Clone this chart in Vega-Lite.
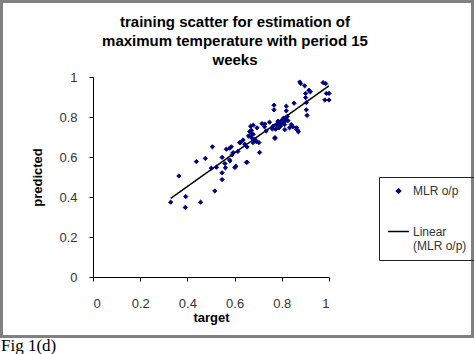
{
  "$schema": "https://vega.github.io/schema/vega-lite/v6.json",
  "autosize": {"type": "none"},
  "width": 236,
  "height": 200,
  "padding": {"left": 93, "top": 77, "right": 145, "bottom": 77},
  "background": "white",
  "config": {
    "view": {"stroke": null},
    "font": "Liberation Sans",
    "axis": {"grid": false, "domainColor": "black", "tickColor": "black", "tickSize": 4, "labelOverlap": false, "labelFont": "Liberation Sans", "labelFontSize": 13, "labelColor": "#333", "titleFont": "Liberation Sans", "titleFontSize": 13, "titleFontWeight": "bold", "titleColor": "black"},
    "axisX": {"labelPadding": 16, "titlePadding": 1, "tickCount": 5},
    "axisY": {"labelOverlap": false, "tickCount": 5, "labelPadding": 12, "titlePadding": 14}
  },
  "title": {
    "text": ["training scatter for estimation of", "maximum temperature with period 15", "weeks"],
    "font": "Liberation Sans", "fontSize": 15, "fontWeight": "bold", "color": "black",
    "lineHeight": 19, "anchor": "middle", "frame": "group", "dx": 24, "offset": -66
  },
  "datasets": {
    "pts": [
      {"t": 0.329, "p": 0.374}, {"t": 0.364, "p": 0.505}, {"t": 0.393, "p": 0.402}, {"t": 0.391, "p": 0.348},
      {"t": 0.438, "p": 0.577}, {"t": 0.456, "p": 0.374}, {"t": 0.476, "p": 0.593}, {"t": 0.506, "p": 0.651},
      {"t": 0.501, "p": 0.544}, {"t": 0.523, "p": 0.549}, {"t": 0.516, "p": 0.430}, {"t": 0.547, "p": 0.598},
      {"t": 0.547, "p": 0.521}, {"t": 0.547, "p": 0.487}, {"t": 0.561, "p": 0.546}, {"t": 0.565, "p": 0.639},
      {"t": 0.579, "p": 0.644}, {"t": 0.586, "p": 0.651}, {"t": 0.579, "p": 0.585}, {"t": 0.589, "p": 0.611},
      {"t": 0.605, "p": 0.554}, {"t": 0.614, "p": 0.628}, {"t": 0.621, "p": 0.672}, {"t": 0.636, "p": 0.685},
      {"t": 0.643, "p": 0.664}, {"t": 0.653, "p": 0.574}, {"t": 0.659, "p": 0.705}, {"t": 0.664, "p": 0.726},
      {"t": 0.668, "p": 0.754}, {"t": 0.671, "p": 0.734}, {"t": 0.671, "p": 0.697}, {"t": 0.674, "p": 0.713},
      {"t": 0.678, "p": 0.672}, {"t": 0.685, "p": 0.689}, {"t": 0.692, "p": 0.677}, {"t": 0.703, "p": 0.672},
      {"t": 0.706, "p": 0.623}, {"t": 0.695, "p": 0.746}, {"t": 0.716, "p": 0.767}, {"t": 0.727, "p": 0.751},
      {"t": 0.734, "p": 0.730}, {"t": 0.748, "p": 0.774}, {"t": 0.763, "p": 0.754}, {"t": 0.767, "p": 0.859},
      {"t": 0.767, "p": 0.836}, {"t": 0.774, "p": 0.739}, {"t": 0.771, "p": 0.697}, {"t": 0.777, "p": 0.762},
      {"t": 0.784, "p": 0.779}, {"t": 0.788, "p": 0.746}, {"t": 0.794, "p": 0.754}, {"t": 0.798, "p": 0.782},
      {"t": 0.802, "p": 0.770}, {"t": 0.808, "p": 0.795}, {"t": 0.812, "p": 0.762}, {"t": 0.816, "p": 0.787},
      {"t": 0.819, "p": 0.854}, {"t": 0.819, "p": 0.831}, {"t": 0.823, "p": 0.803}, {"t": 0.826, "p": 0.782},
      {"t": 0.833, "p": 0.746}, {"t": 0.840, "p": 0.762}, {"t": 0.847, "p": 0.751}, {"t": 0.852, "p": 0.869},
      {"t": 0.862, "p": 0.746}, {"t": 0.867, "p": 0.733}, {"t": 0.876, "p": 0.975}, {"t": 0.880, "p": 0.967},
      {"t": 0.897, "p": 0.956}, {"t": 0.901, "p": 0.918}, {"t": 0.901, "p": 0.897}, {"t": 0.904, "p": 0.872},
      {"t": 0.904, "p": 0.836}, {"t": 0.907, "p": 0.808}, {"t": 0.915, "p": 0.934}, {"t": 0.921, "p": 0.926},
      {"t": 0.975, "p": 0.972}, {"t": 0.986, "p": 0.967}, {"t": 0.989, "p": 0.918}, {"t": 1.0, "p": 0.918},
      {"t": 1.0, "p": 0.885}, {"t": 0.982, "p": 0.885}, {"t": 0.813, "p": 0.778}, {"t": 0.792, "p": 0.759},
      {"t": 0.728, "p": 0.765}, {"t": 0.679, "p": 0.759}, {"t": 0.667, "p": 0.730}, {"t": 0.679, "p": 0.714},
      {"t": 0.689, "p": 0.683}, {"t": 0.653, "p": 0.650}, {"t": 0.625, "p": 0.672}, {"t": 0.594, "p": 0.622},
      {"t": 0.580, "p": 0.581}, {"t": 0.559, "p": 0.567}, {"t": 0.601, "p": 0.548}, {"t": 0.650, "p": 0.573},
      {"t": 0.863, "p": 0.737}, {"t": 0.870, "p": 0.726}, {"t": 0.813, "p": 0.737}, {"t": 0.771, "p": 0.693},
      {"t": 0.780, "p": 0.745}, {"t": 0.790, "p": 0.770}, {"t": 0.760, "p": 0.740}
    ],
    "fit": [
      {"t": 0.329, "p": 0.393},
      {"t": 1.0, "p": 0.956}
    ]
  },
  "layer": [
    {
      "data": {"name": "fit"},
      "mark": {"type": "line", "strokeOpacity": 0},
      "encoding": {
        "x": {"field": "t", "type": "quantitative", "scale": {"domain": [0, 1], "nice": false}, "title": "target", "axis": {"format": "~g"}},
        "y": {"field": "p", "type": "quantitative", "scale": {"domain": [0, 1], "nice": false}, "title": "predicted", "axis": {"format": "~g"}},
        "stroke": {"datum": 0.5, "type": "quantitative",
          "scale": {"domain": [0, 1], "range": ["rgba(255,255,255,0)", "rgba(255,255,255,0)"]},
          "legend": {"title": null, "orient": "none", "legendX": -91.5, "legendY": -75.5, "padding": 0,
            "direction": "vertical", "gradientLength": 335, "gradientThickness": 471,
            "gradientStrokeColor": "#808080", "gradientStrokeWidth": 3, "labelOpacity": 0, "labelExpr": "''"}}
      }
    },
    {
      "data": {"name": "fit"},
      "mark": {"type": "line", "color": "black", "strokeWidth": 1.5},
      "encoding": {
        "x": {"field": "t", "type": "quantitative", "axis": {"format": "~g"}},
        "y": {"field": "p", "type": "quantitative", "axis": {"format": "~g"}},
        "strokeDash": {"datum": "fig", "scale": {"range": [[1, 0]]},
          "legend": {"title": "Fig 1(d)", "orient": "none", "legendX": -92, "legendY": 261, "padding": 0,
            "titleFont": "Liberation Serif", "titleFontSize": 17, "titleFontWeight": "normal", "titleColor": "black",
            "labelExpr": "''", "symbolOpacity": 0, "symbolStrokeWidth": 0}}
      }
    },
    {
      "data": {"name": "pts"},
      "transform": [{"calculate": "'MLR o/p'", "as": "series"}],
      "mark": {"type": "point", "filled": false, "fill": "#000080", "fillOpacity": 1, "strokeWidth": 1, "opacity": 1},
      "encoding": {
        "x": {"field": "t", "type": "quantitative", "axis": {"format": "~g"}},
        "y": {"field": "p", "type": "quantitative", "axis": {"format": "~g"}},
        "color": {"field": "series", "type": "nominal", "scale": {"domain": ["MLR o/p", "Linear (MLR o/p)"], "range": ["#000080", "#000000"]},
          "legend": {"title": null, "orient": "none", "legendX": 286, "legendY": 100, "strokeColor": "#222", "padding": 8,
            "rowPadding": 23, "labelFont": "Liberation Sans", "labelFontSize": 12, "labelColor": "#333", "labelLimit": 200,
            "labelOffset": 3, "labelExpr": "datum.label == 'Linear (MLR o/p)' ? ['Linear', '(MLR o/p)'] : datum.label",
            "symbolStrokeWidth": 1.5}},
        "shape": {"field": "series", "type": "nominal", "scale": {"domain": ["MLR o/p", "Linear (MLR o/p)"], "range": ["diamond", "stroke"]}},
        "size": {"field": "series", "type": "nominal", "scale": {"type": "ordinal", "domain": ["MLR o/p", "Linear (MLR o/p)"], "range": [18, 440]}}
      }
    }
  ]
}
